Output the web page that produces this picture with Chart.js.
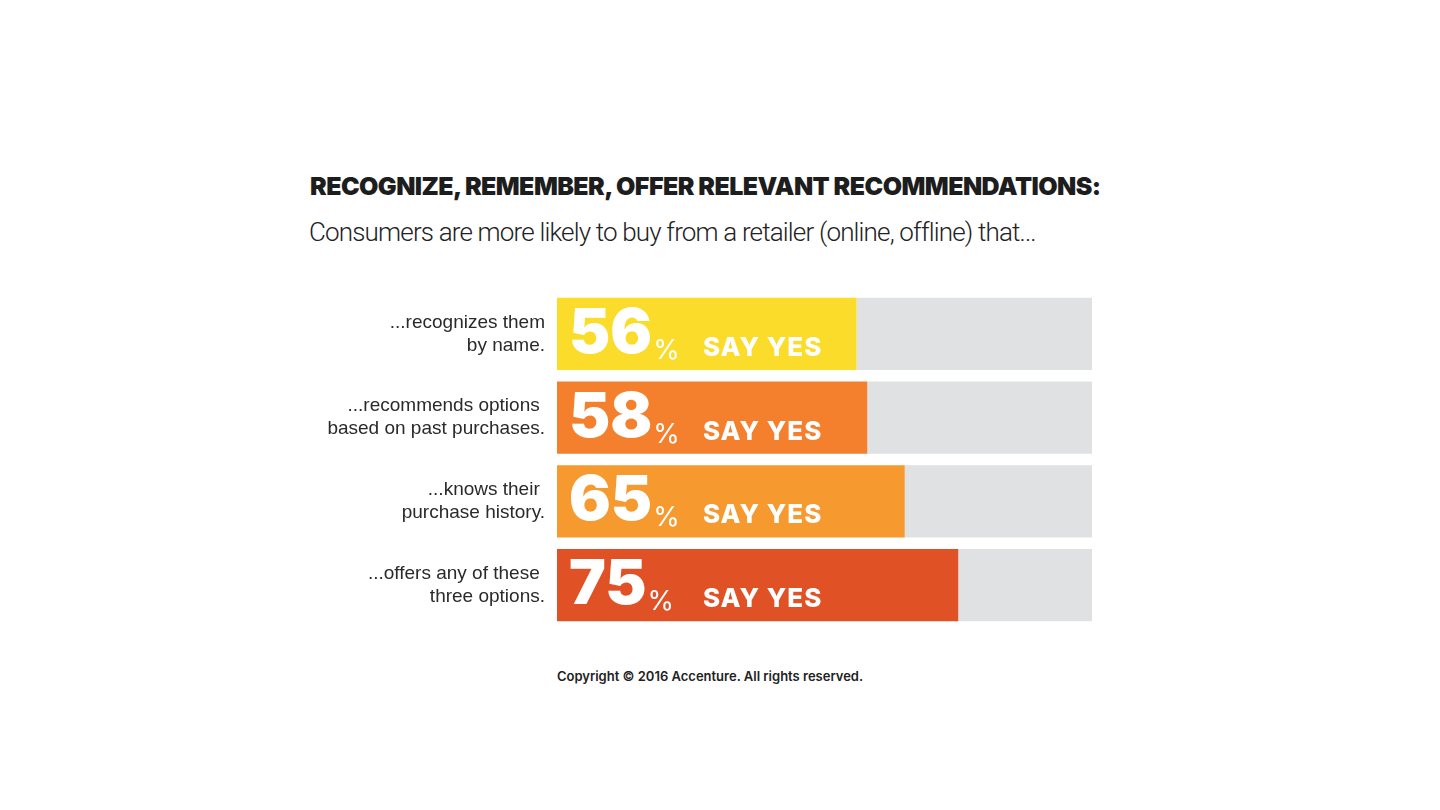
<!doctype html>
<html lang="en">
  <head>
    <meta charset="utf-8">
    <title>Recognize, remember, offer relevant recommendations</title>
    <style>
      * {
        margin: 0;
        padding: 0;
      }
      body {
        width: 1440px;
        height: 810px;
        background: #fff;
        position: relative;
        overflow: hidden;
      }
      .title {
        position: absolute;
        left: 310px;
        top: 174px;
        font-family: Inter, sans-serif;
        font-weight: 900;
        font-size: 25px;
        line-height: 25px;
        letter-spacing: -0.56px;
        color: #1d1d1d;
        white-space: nowrap;
      }
      .subtitle {
        position: absolute;
        left: 309px;
        top: 219px;
        font-family: Roboto, sans-serif;
        font-weight: 300;
        font-size: 26px;
        line-height: 26px;
        letter-spacing: -0.83px;
        color: #222;
        white-space: nowrap;
      }
      .copy {
        position: absolute;
        left: 0;
        width: 1420px;
        text-align: center;
        top: 668px;
        font-family: Inter, sans-serif;
        font-weight: 600;
        font-size: 13px;
        line-height: 16px;
        letter-spacing: 0px;
        color: #222;
      }
      #myChart {
        position: absolute;
        left: 300px;
        top: 286px;
      }
    </style>
  </head>
  <body>
    <div class="title">RECOGNIZE, REMEMBER, OFFER RELEVANT RECOMMENDATIONS:</div>
    <div class="subtitle">Consumers are more likely to buy from a retailer (online, offline) that...</div>
    <canvas id="myChart" width="800" height="350"></canvas>
    <div class="copy">Copyright © 2016 Accenture. All rights reserved.</div>

    <script src="https://cdn.jsdelivr.net/npm/chart.js/dist/chart.umd.min.js"></script>
    <script>
    // setup
    const categories = [
      ['...recognizes them', 'by name.'],
      ['...recommends options ', 'based on past purchases.'],
      ['...knows their ', 'purchase history.'],
      ['...offers any of these ', 'three options.']
    ];
    const yesValues = [56, 58, 65, 75];
    const restValues = yesValues.map(v => 100 - v);
    const barColors = ['#FBDC2A', '#F47F2C', '#F69A30', '#E05126'];
    const restColor = '#DFE1E2';
    const yesText = 'SAY YES';

    // draws "56% SAY YES" inside each colored bar
    const sayYesLabels = {
      id: 'sayYesLabels',
      afterDatasetsDraw(chart) {
        const ctx = chart.ctx;
        const meta = chart.getDatasetMeta(0);
        ctx.save();
        ctx.fillStyle = '#fff';
        ctx.textBaseline = 'alphabetic';
        meta.data.forEach((bar, i) => {
          const left = bar.base + 12;
          ctx.font = '900 62px Inter';
          ctx.letterSpacing = '0px';
          const num = String(yesValues[i]);
          ctx.fillText(num, left, bar.y + 19);
          const x = left + ctx.measureText(num).width + 1;
          ctx.font = '400 27px Inter';
          ctx.fillText('%', x, bar.y + 25);
          ctx.font = '800 26px Inter';
          ctx.letterSpacing = '1px';
          ctx.fillText(yesText, left + 134, bar.y + 22);
        });
        ctx.restore();
      }
    };

    const data = {
      labels: categories,
      datasets: [{
        label: 'Say yes',
        data: yesValues,
        backgroundColor: barColors,
        borderWidth: 0
      }, {
        label: 'Rest',
        data: restValues,
        backgroundColor: restColor,
        borderWidth: 0
      }]
    };

    // config
    const config = {
      type: 'bar',
      data,
      plugins: [sayYesLabels],
      options: {
        indexAxis: 'y',
        responsive: false,
        animation: false,
        categoryPercentage: 1,
        barPercentage: 0.86,
        layout: {
          padding: { top: 6, bottom: 9, right: 8, left: 0 }
        },
        plugins: {
          legend: { display: false },
          tooltip: { enabled: false }
        },
        scales: {
          x: {
            stacked: true,
            display: false,
            min: 0,
            max: 100
          },
          y: {
            stacked: true,
            grid: { display: false, drawTicks: false },
            border: { display: false },
            afterFit(scale) {
              scale.width = 257;
              scale.paddingTop = 0;
              scale.paddingBottom = 0;
            },
            ticks: {
              padding: 12,
              color: '#2a2a2a',
              font: { family: 'Liberation Sans', size: 19, lineHeight: 1.2 }
            }
          }
        }
      }
    };

    const myChart = new Chart(document.getElementById('myChart'), config);
    </script>
  </body>
</html>
